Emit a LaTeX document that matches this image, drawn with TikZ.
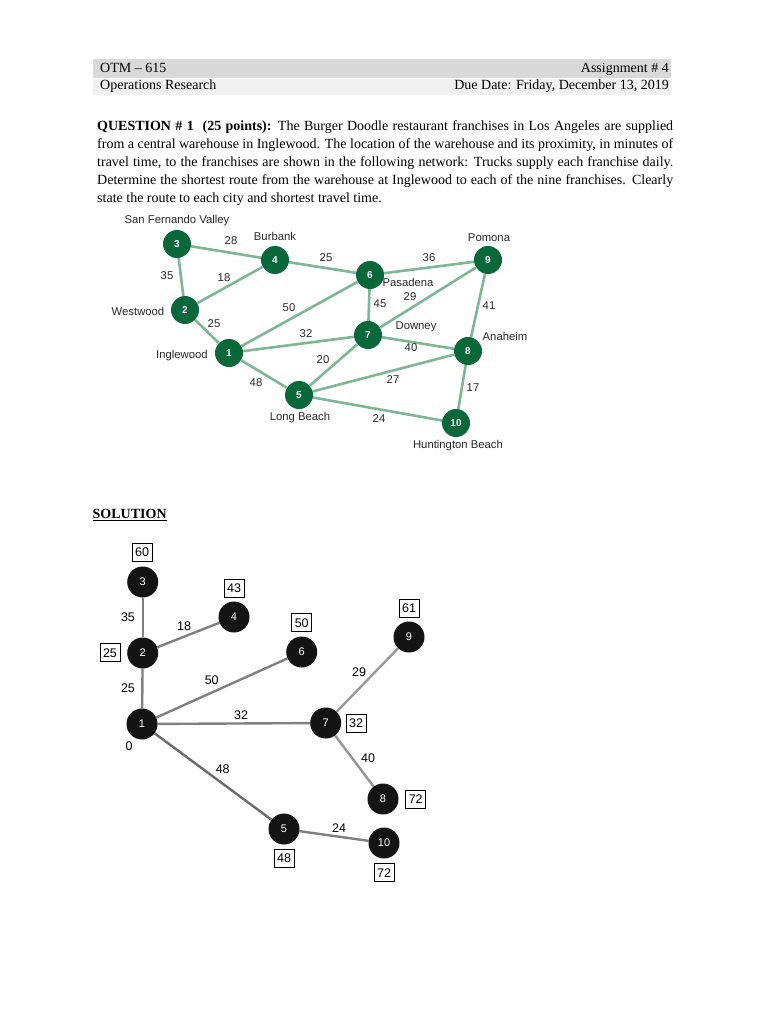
\documentclass[tikz,border=0pt]{standalone}
\usepackage{fontspec}
\setmainfont{Liberation Serif}
\newfontfamily\arial{Liberation Sans}
\usetikzlibrary{backgrounds}
\definecolor{gdark}{RGB}{8,104,58}
\definecolor{gedgec}{RGB}{128,182,152}
\definecolor{bandA}{RGB}{217,217,217}
\definecolor{bandB}{RGB}{241,241,241}
\definecolor{labc}{RGB}{40,40,40}
\begin{document}
\begin{tikzpicture}[x=1pt,y=-1pt,
  gnode/.style={circle, fill=gdark, text=white, font=\arial\bfseries\fontsize{10}{12}\selectfont, minimum size=28pt, inner sep=0pt},
  gedge/.style={draw=gedgec, line width=2.6pt},
  glab/.style={font=\arial\fontsize{11.3}{13}\selectfont, text=labc, inner sep=0pt},
  bnode/.style={circle, fill=black!92, text=white, font=\arial\fontsize{11}{13}\selectfont, minimum size=31pt, inner sep=0pt},
  bedge/.style={draw=black!50, line width=2.4pt},
  blab/.style={font=\arial\fontsize{12.5}{14}\selectfont, inner sep=0pt},
  vbox/.style={draw, line width=0.8pt, font=\arial\fontsize{12.5}{14}\selectfont, minimum width=20pt, minimum height=18pt, inner sep=1pt},
  hdr/.style={font=\fontsize{14}{16}\selectfont, inner sep=0pt}
]
\useasboundingbox (0,0) rectangle (768,1024);
\begin{scope}[on background layer]
\fill[white] (0,0) rectangle (768,1024);
\end{scope}

% header
\fill[bandA] (93,59) rectangle (671,78);
\fill[bandB] (93,79) rectangle (672,95.5);
\node[hdr, anchor=base west] (h1) at (100,73) {OTM -- 615};
\node[hdr, anchor=base east] (h2) at (669,73) {Assignment \# 4};
\node[hdr, anchor=base west] (h3) at (100,90) {Operations Research};
\node[hdr, anchor=base east] (h4) at (669,90) {Due Date: Friday, December 13, 2019};

% question
\node[anchor=base west, inner sep=0pt, text width=576pt, align=justify, font=\fontsize{14}{18}\selectfont] (q) at (97,131)
{\textbf{QUESTION \# 1\ \ (25 points):} The Burger Doodle restaurant franchises in Los Angeles are supplied\linebreak
from a central warehouse in Inglewood. The location of the warehouse and its proximity, in minutes of\linebreak
travel time, to the franchises are shown in the following network: Trucks supply each franchise daily.\linebreak
Determine the shortest route from the warehouse at Inglewood to each of the nine franchises. Clearly\linebreak
state the route to each city and shortest travel time.};

% green network
\node[gnode] (g3) at (177,244) {3};
\node[gnode] (g4) at (275,260) {4};
\node[gnode] (g6) at (370,275) {6};
\node[gnode] (g9) at (488,260) {9};
\node[gnode] (g2) at (185,310) {2};
\node[gnode] (g7) at (368,335) {7};
\node[gnode] (g1) at (229,353) {1};
\node[gnode] (g8) at (468,351) {8};
\node[gnode] (g5) at (299,395) {5};
\node[gnode] (g10) at (456,423) {10};
\begin{scope}[on background layer]
\draw[gedge] (g3)--(g4);
\draw[gedge] (g3)--(g2);
\draw[gedge] (g2)--(g4);
\draw[gedge] (g2)--(g1);
\draw[gedge] (g4)--(g6);
\draw[gedge] (g6)--(g9);
\draw[gedge] (g6)--(g1);
\draw[gedge] (g6)--(g7);
\draw[gedge] (g9)--(g7);
\draw[gedge] (g9)--(g8);
\draw[gedge] (g1)--(g7);
\draw[gedge] (g1)--(g5);
\draw[gedge] (g7)--(g5);
\draw[gedge] (g7)--(g8);
\draw[gedge] (g5)--(g8);
\draw[gedge] (g5)--(g10);
\draw[gedge] (g8)--(g10);
\end{scope}
\node[glab] (n3) at (177,221) {San Fernando Valley};
\node[glab] (n4) at (275,236) {Burbank};
\node[glab] (n9) at (489,238) {Pomona};
\node[glab] (n6) at (408,282) {Pasadena};
\node[glab] (n2) at (138,311) {Westwood};
\node[glab] (n7) at (416,327) {Downey};
\node[glab] (n8) at (505,336) {Anaheim};
\node[glab] (n1) at (182,356) {Inglewood};
\node[glab] (n5) at (300,418) {Long Beach};
\node[glab] (n10) at (458,446) {Huntington Beach};
\node[glab] (e34) at (231,241) {28};
\node[glab] (e32) at (167,276) {35};
\node[glab] (e24) at (224,278) {18};
\node[glab] (e46) at (326,258) {25};
\node[glab] (e69) at (429,258) {36};
\node[glab] (e67) at (380,304) {45};
\node[glab] (e97) at (410,297) {29};
\node[glab] (e61) at (289,308) {50};
\node[glab] (e98) at (489,306) {41};
\node[glab] (e21) at (214,324) {25};
\node[glab] (e17) at (306,334) {32};
\node[glab] (e78) at (411,348) {40};
\node[glab] (e75) at (323,360) {20};
\node[glab] (e58) at (393,380) {27};
\node[glab] (e15) at (256,383) {48};
\node[glab] (e810) at (473,388) {17};
\node[glab] (e510) at (379,419) {24};

% solution
\node[anchor=base west, inner sep=0pt, font=\bfseries\fontsize{14}{16}\selectfont] (sol) at (92.5,518.5) {\underline{SOLUTION}};

\node[bnode] (b3) at (142.7,582) {3};
\node[bnode] (b4) at (234,617) {4};
\node[bnode] (b6) at (301.7,652) {6};
\node[bnode] (b9) at (409,637) {9};
\node[bnode] (b2) at (142.7,653) {2};
\node[bnode] (b1) at (142,724) {1};
\node[bnode] (b7) at (325.7,723) {7};
\node[bnode] (b8) at (383,799) {8};
\node[bnode] (b5) at (284,829) {5};
\node[bnode] (b10) at (384,843) {10};
\begin{scope}[on background layer]
\draw[bedge] (b3)--(b2);
\draw[bedge] (b2)--(b4);
\draw[bedge] (b2)--(b1);
\draw[bedge] (b1)--(b6);
\draw[bedge] (b1)--(b7);
\draw[bedge, draw=black!40] (b7)--(b9);
\draw[bedge, draw=black!42] (b7)--(b8);
\draw[bedge, draw=black!58] (b1)--(b5);
\draw[bedge] (b5)--(b10);
\end{scope}
\node[vbox] (v3) at (142,552) {60};
\node[vbox] (v4) at (234,588) {43};
\node[vbox] (v6) at (301.7,622.7) {50};
\node[vbox] (v9) at (409,608) {61};
\node[vbox] (v2) at (110,652.7) {25};
\node[vbox] (v7) at (356,723) {32};
\node[vbox] (v8) at (415.7,799) {72};
\node[vbox] (v5) at (284,858) {48};
\node[vbox] (v10) at (384,872.7) {72};
\node[blab] (s32) at (128,617) {35};
\node[blab] (s24) at (184,626) {18};
\node[blab] (s21) at (128,688) {25};
\node[blab] (s16) at (211.7,680) {50};
\node[blab] (s79) at (359,672) {29};
\node[blab] (s17) at (241,715) {32};
\node[blab] (s1) at (129,746) {0};
\node[blab] (s15) at (222.7,769) {48};
\node[blab] (s78) at (368,757.7) {40};
\node[blab] (s510) at (339,828) {24};
\end{tikzpicture}
\end{document}
